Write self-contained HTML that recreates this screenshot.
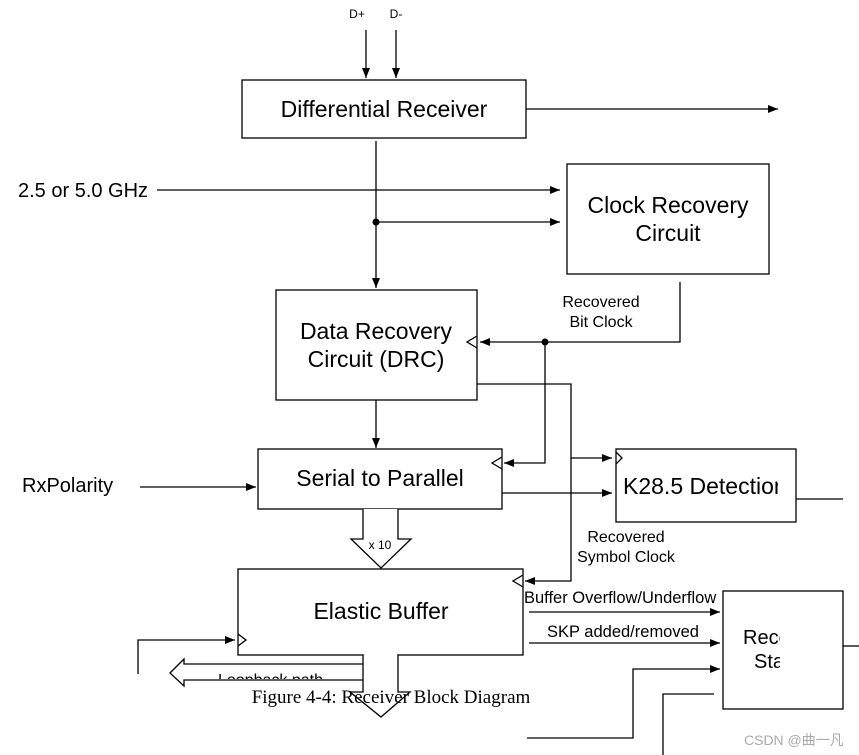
<!DOCTYPE html>
<html><head><meta charset="utf-8"><style>
html,body{margin:0;padding:0;background:#fff;}
svg{display:block;}
text{font-family:"Liberation Sans",Arial,sans-serif;fill:#000;}
</style></head><body>
<svg width="859" height="755" viewBox="0 0 859 755" xmlns="http://www.w3.org/2000/svg">
<defs>
<marker id="a" markerWidth="10" markerHeight="8" refX="10" refY="4" orient="auto" markerUnits="userSpaceOnUse"><path d="M0,0 L10,4 L0,8 z" fill="#000"/></marker>
<clipPath id="ck"><rect x="616" y="449" width="162" height="73"/></clipPath>
<clipPath id="cr"><rect x="723" y="591" width="57" height="118"/></clipPath>
<clipPath id="cl"><rect x="170" y="660" width="200" height="19"/></clipPath>
</defs>
<g stroke="#000" stroke-width="1.3" fill="none">
<line x1="366" y1="30" x2="366" y2="78" marker-end="url(#a)"/>
<line x1="396" y1="30" x2="396" y2="78" marker-end="url(#a)"/>
<rect x="242" y="80" width="284" height="58"/>
<line x1="526" y1="109" x2="778" y2="109" marker-end="url(#a)"/>
<line x1="376" y1="141" x2="376" y2="288" marker-end="url(#a)"/>
<line x1="157" y1="190" x2="560" y2="190" marker-end="url(#a)"/>
<line x1="376" y1="222" x2="560" y2="222" marker-end="url(#a)"/>
<rect x="567" y="164" width="202" height="110"/>
<polyline points="680,282 680,342 480,342" marker-end="url(#a)"/>
<polyline points="545,342 545,463 504,463" marker-end="url(#a)"/>
<rect x="276" y="290" width="201" height="110"/>
<polyline points="477,336 467,342 477,348"/>
<polyline points="477,384 571,384 571,581 525,581" marker-end="url(#a)"/>
<line x1="571" y1="458" x2="612" y2="458" marker-end="url(#a)"/>
<line x1="376" y1="400" x2="376" y2="448" marker-end="url(#a)"/>
<rect x="258" y="449" width="244" height="60"/>
<polyline points="502,457 492,463 502,469"/>
<line x1="140" y1="487" x2="256" y2="487" marker-end="url(#a)"/>
<line x1="502" y1="493" x2="612" y2="493" marker-end="url(#a)"/>
<rect x="616" y="449" width="180" height="73"/>
<polyline points="616,452 622,458 616,464"/>
<line x1="796" y1="499" x2="843" y2="499"/>
<polyline points="363,509 363,539 351,539 381,568 411,539 398,539 398,509" fill="#fff"/>
<rect x="238" y="569" width="285" height="86"/>
<polyline points="523,575 513,581 523,587"/>
<polyline points="238,634 246,640 238,646"/>
<line x1="529" y1="612" x2="720" y2="612" marker-end="url(#a)"/>
<line x1="529" y1="643" x2="720" y2="643" marker-end="url(#a)"/>
<rect x="723" y="591" width="120" height="118"/>
<line x1="843" y1="646" x2="859" y2="646"/>
<polyline points="527,738 633,738 633,669 720,669" marker-end="url(#a)"/>
<polyline points="663,755 663,694 714,694"/>
<polyline points="138,674 138,640 235,640" marker-end="url(#a)"/>
<polyline points="363,664 184,664 184,659 170,673 184,686 184,680 363,680" fill="#fff"/>
<polyline points="363,655 363,692 350,692 381,717 410,692 398,692 398,655" fill="#fff"/>
</g>
<circle cx="376" cy="222" r="3.5" fill="#000"/>
<circle cx="545" cy="342" r="3.5" fill="#000"/>
<rect x="364" y="654" width="33" height="7" fill="#fff"/>
<text x="357" y="18" font-size="12" text-anchor="middle">D+</text>
<text x="396" y="18" font-size="12" text-anchor="middle">D-</text>
<text x="384" y="117" font-size="23" text-anchor="middle">Differential Receiver</text>
<text x="18" y="197" font-size="20">2.5 or 5.0 GHz</text>
<text x="668" y="213" font-size="23" text-anchor="middle">Clock Recovery</text>
<text x="668" y="241" font-size="23" text-anchor="middle">Circuit</text>
<text x="601" y="307" font-size="16" text-anchor="middle">Recovered</text>
<text x="601" y="327" font-size="16" text-anchor="middle">Bit Clock</text>
<text x="376" y="339" font-size="23" text-anchor="middle">Data Recovery</text>
<text x="376" y="367" font-size="23" text-anchor="middle">Circuit (DRC)</text>
<text x="380" y="486" font-size="23" text-anchor="middle">Serial to Parallel</text>
<text x="22" y="492" font-size="20">RxPolarity</text>
<text x="623" y="494" font-size="23" clip-path="url(#ck)">K28.5 Detection</text>
<text x="380" y="549" font-size="12" text-anchor="middle">x 10</text>
<text x="626" y="542" font-size="16" text-anchor="middle">Recovered</text>
<text x="626" y="562" font-size="16" text-anchor="middle">Symbol Clock</text>
<text x="381" y="619" font-size="23" text-anchor="middle">Elastic Buffer</text>
<text x="524" y="603" font-size="16.5">Buffer Overflow/Underflow</text>
<text x="547" y="637" font-size="16.5">SKP added/removed</text>
<g clip-path="url(#cr)"><text x="743" y="644" font-size="20">Receiver</text><text x="754" y="668" font-size="20">State</text></g>
<text x="218" y="685" font-size="16" clip-path="url(#cl)">Loopback path</text>
<text x="391" y="703" font-size="19" text-anchor="middle" style="font-family:'Liberation Serif',serif">Figure 4-4: Receiver Block Diagram</text>
<text x="744" y="745" font-size="14" style="fill:#aaa;font-family:'Liberation Sans','Noto Sans CJK SC',sans-serif">CSDN @曲一凡</text>
</svg>
</body></html>
